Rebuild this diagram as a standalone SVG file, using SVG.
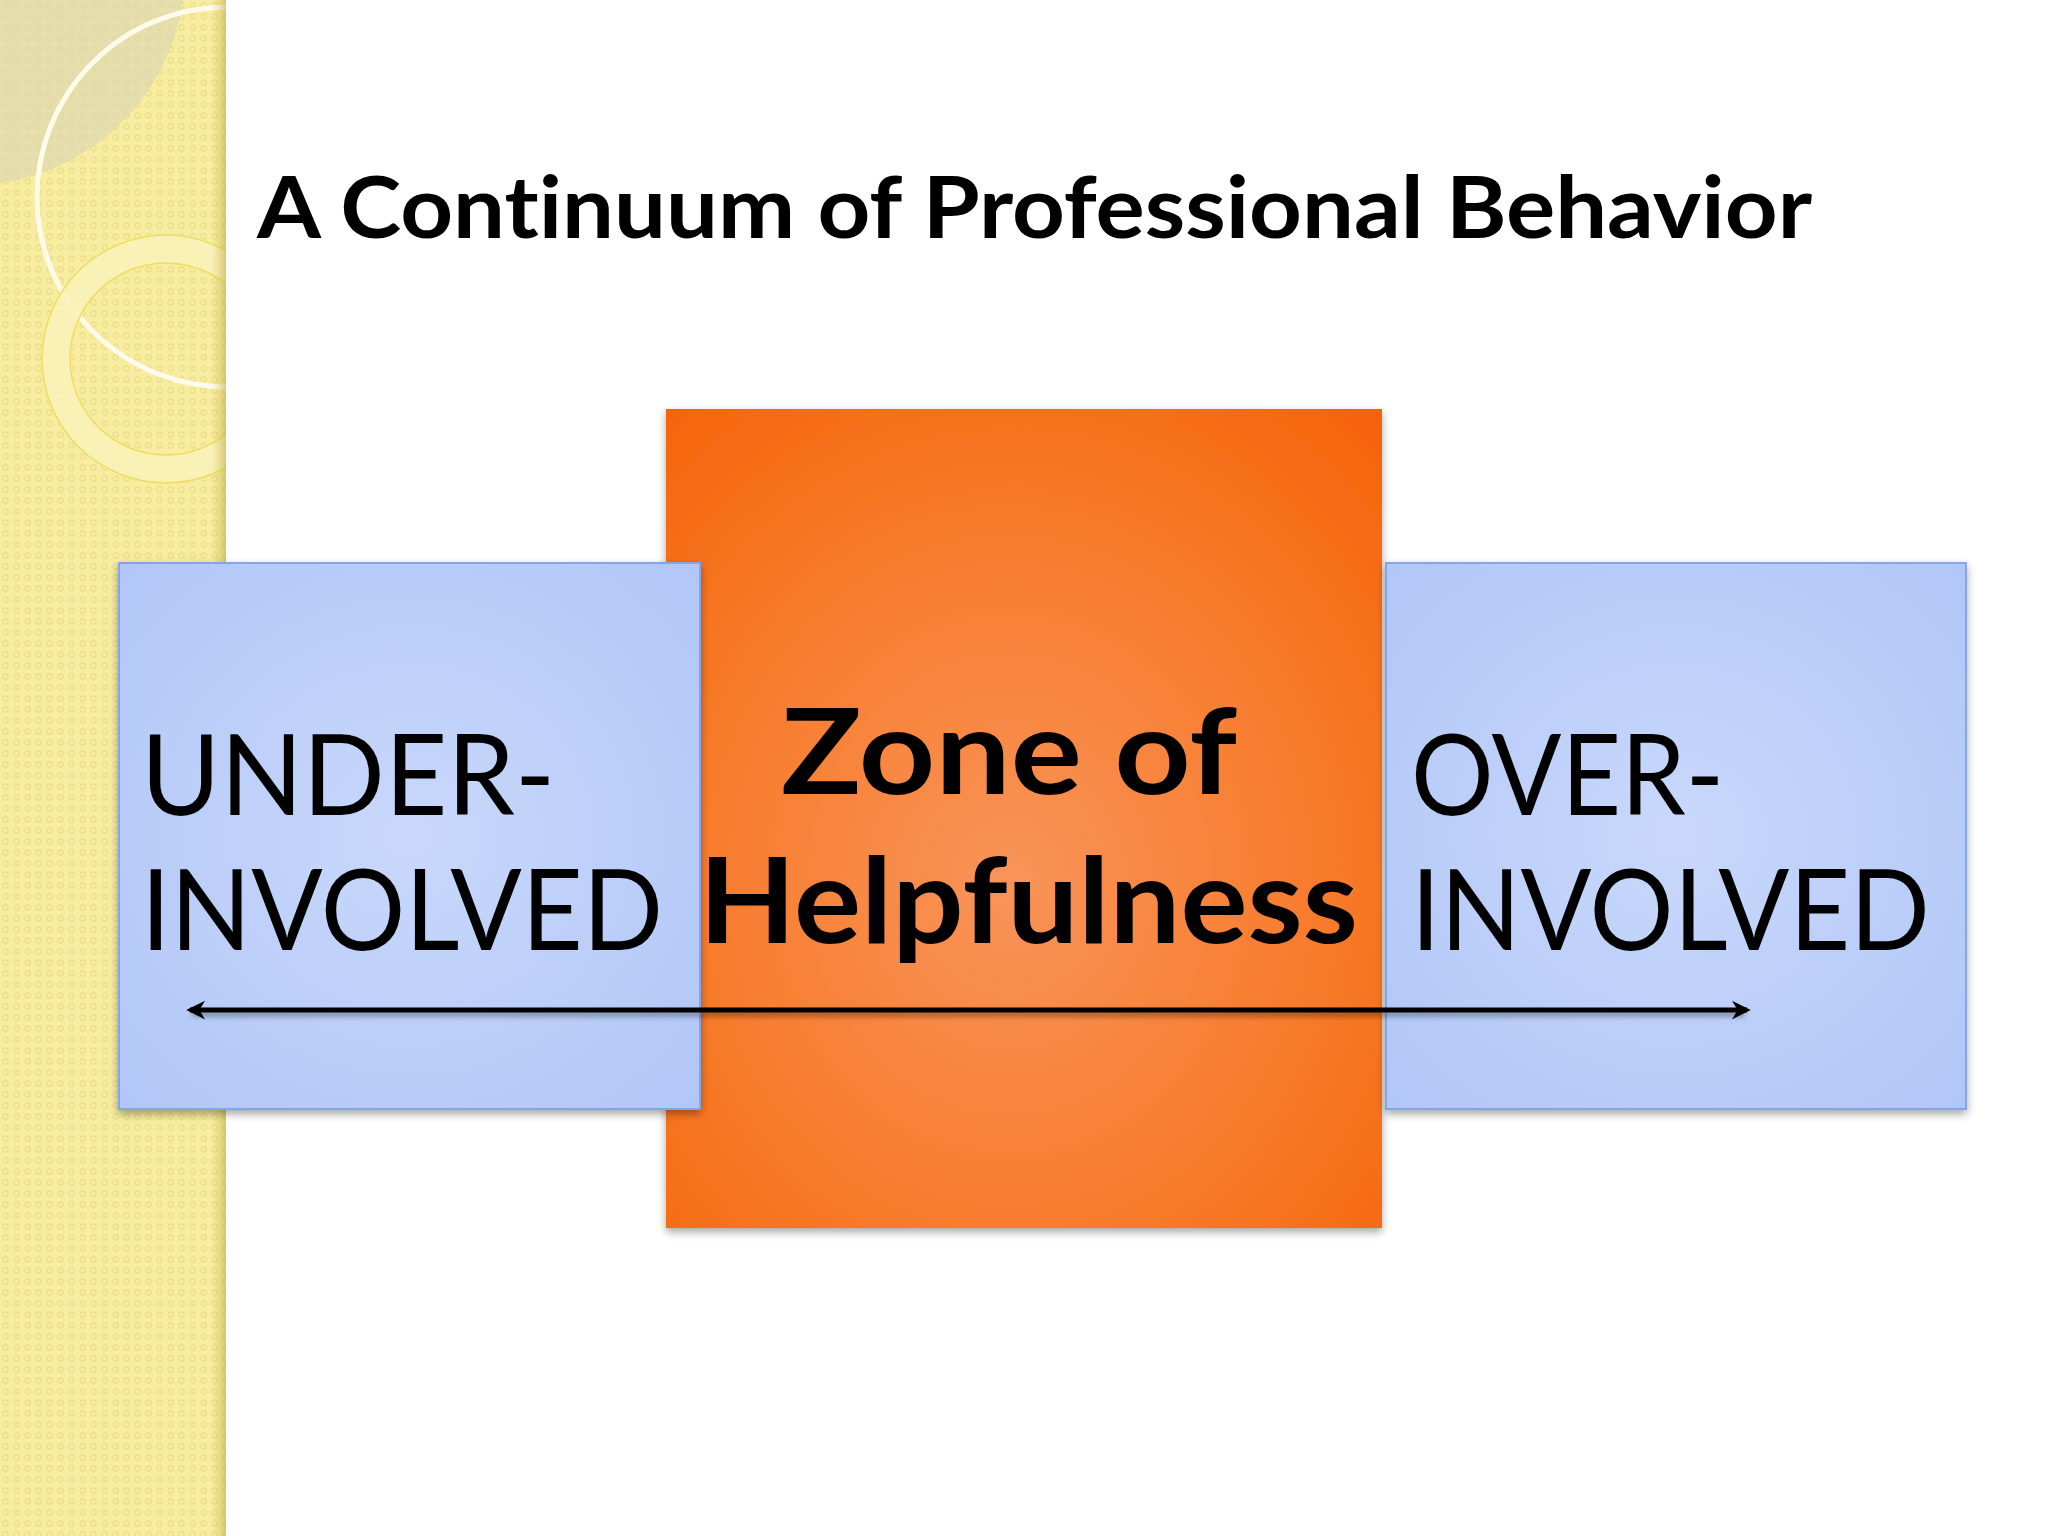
<svg xmlns="http://www.w3.org/2000/svg" width="2048" height="1536" viewBox="0 0 2048 1536">
  <style>
    .lbl { font-family: Lato, "Open Sans", "Liberation Sans", sans-serif; fill: #000; font-variant-ligatures: none; font-feature-settings: "liga" 0, "dlig" 0, "clig" 0; }
    .reg { font-size: 112px; font-weight: 400; }
    .bold { font-size: 119px; font-weight: 700; }
    .title { font-size: 86px; font-weight: 700; }
    .blue { fill: url(#blueGrad); stroke: #86a5e6; stroke-width: 2; filter: url(#shadow); }
  </style>
  <defs>
    <pattern id="dots" width="11" height="11" patternUnits="userSpaceOnUse">
      <rect width="11" height="11" fill="#f7ec9f"/>
      <circle cx="5.5" cy="5.5" r="2.6" fill="none" stroke="#ebdd88" stroke-width="1.2"/>
    </pattern>
    <linearGradient id="edge" x1="0" y1="0" x2="1" y2="0">
      <stop offset="0" stop-color="#c8b850" stop-opacity="0"/>
      <stop offset="1" stop-color="#b8a840" stop-opacity="0.55"/>
    </linearGradient>
    <radialGradient id="orangeGrad" cx="0.48" cy="0.58" r="0.75">
      <stop offset="0" stop-color="#f99459"/>
      <stop offset="0.6" stop-color="#f77a2a"/>
      <stop offset="1" stop-color="#f6640a"/>
    </radialGradient>
    <radialGradient id="blueGrad" cx="0.5" cy="0.5" r="0.72">
      <stop offset="0" stop-color="#c9d8fb"/>
      <stop offset="1" stop-color="#b0c6f7"/>
    </radialGradient>
    <filter id="shadow" x="-5%" y="-5%" width="110%" height="115%">
      <feDropShadow dx="0" dy="4" stdDeviation="4" flood-color="#000" flood-opacity="0.35"/>
    </filter>
    <filter id="blur" filterUnits="userSpaceOnUse" x="150" y="990" width="1650" height="40">
      <feGaussianBlur stdDeviation="2.5"/>
    </filter>
    <clipPath id="stripClip">
      <rect x="0" y="0" width="226" height="1536"/>
    </clipPath>
    <marker id="arrowEnd" viewBox="0 0 12 12" refX="9" refY="6" markerWidth="4.5" markerHeight="4.5" orient="auto" markerUnits="strokeWidth">
      <path d="M1,1 L11,6 L1,11 L4,6 Z" fill="#000"/>
    </marker>
    <marker id="arrowStart" viewBox="0 0 12 12" refX="3" refY="6" markerWidth="4.5" markerHeight="4.5" orient="auto" markerUnits="strokeWidth">
      <path d="M11,1 L1,6 L11,11 L8,6 Z" fill="#000"/>
    </marker>
  </defs>

  <rect width="2048" height="1536" fill="#ffffff"/>

  <!-- decorative left strip -->
  <g id="strip">
    <rect x="0" y="0" width="226" height="1536" fill="url(#dots)"/>
    <g clip-path="url(#stripClip)">
      <circle cx="-30" cy="-30" r="215" fill="#d9d6b8" fill-opacity="0.55"/>
      <circle cx="227" cy="197" r="190" fill="none" stroke="#fffbea" stroke-width="5"/>
      <circle cx="166" cy="359" r="110" fill="none" stroke="#f8f2b8" stroke-width="30" stroke-opacity="0.9"/>
      <circle cx="166" cy="359" r="124" fill="none" stroke="#efdd5a" stroke-width="1.5"/>
      <circle cx="166" cy="359" r="96" fill="none" stroke="#efdd5a" stroke-width="1.5"/>
    </g>
    <rect x="212" y="0" width="14" height="1536" fill="url(#edge)"/>
  </g>

  <g id="title">
    <text class="lbl title" x="257" y="238" textLength="1555" lengthAdjust="spacingAndGlyphs">A Continuum of Professional Behavior</text>
  </g>

  <g id="zone">
    <rect x="666" y="409" width="716" height="819" fill="url(#orangeGrad)" filter="url(#shadow)"/>
    <text class="lbl bold" x="781" y="794" textLength="456" lengthAdjust="spacingAndGlyphs">Zone of</text>
  </g>

  <g id="under">
    <rect class="blue" x="119" y="563" width="581" height="546"/>
    <text class="lbl reg" x="141" y="815" textLength="414" lengthAdjust="spacingAndGlyphs">UNDER-</text>
    <text class="lbl reg" x="141" y="950" textLength="522" lengthAdjust="spacingAndGlyphs">INVOLVED</text>
  </g>

  <g id="over">
    <rect class="blue" x="1386" y="563" width="580" height="546"/>
    <text class="lbl reg" x="1411" y="815" textLength="313" lengthAdjust="spacingAndGlyphs">OVER-</text>
    <text class="lbl reg" x="1411" y="950" textLength="519" lengthAdjust="spacingAndGlyphs">INVOLVED</text>
  </g>

  <g id="zone-label">
    <text class="lbl bold" x="699" y="943" textLength="659" lengthAdjust="spacingAndGlyphs">Helpfulness</text>
  </g>

  <g id="connectors">
    <line x1="192" y1="1014" x2="1745" y2="1014" stroke="#000" stroke-opacity="0.3" stroke-width="6" filter="url(#blur)"/>
    <line x1="190" y1="1010" x2="1747" y2="1010" stroke="#000" stroke-width="5" marker-start="url(#arrowStart)" marker-end="url(#arrowEnd)"/>
  </g>
</svg>
